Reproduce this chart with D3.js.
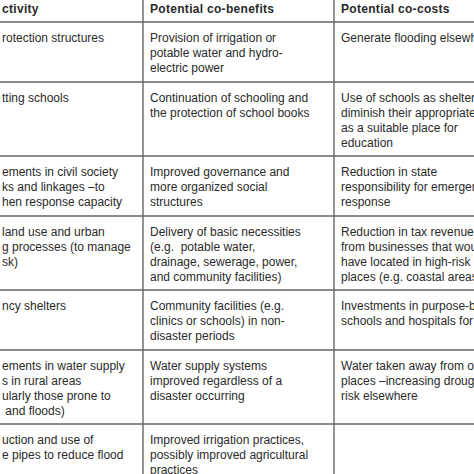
<!DOCTYPE html>
<html lang="en">
<head>
  <meta charset="UTF-8">
  <script src="https://cdn.jsdelivr.net/npm/d3@7"></script>
  <style>
    body { margin: 0; background: #fff; }
    svg { display: block; font-family: "Liberation Sans", Arial, sans-serif; }
  </style>
</head>
<body>
  <svg id="chart" width="474" height="474"></svg>
  <script>
    const headers = ["ctivity", "Potential co-benefits", "Potential co-costs"];

    const activity = [
      ["rotection structures"],
      ["tting schools"],
      ["ements in civil society", "ks and linkages \u2013to", "hen response capacity"],
      ["land use and urban", "g processes (to manage", "sk)"],
      ["ncy shelters"],
      ["ements in water supply", "s in rural areas", "ularly those prone to", " and floods)"],
      ["uction and use of", "e pipes to reduce flood"]
    ];
    const benefits = [
      ["Provision of irrigation or", "potable water and hydro-", "electric power"],
      ["Continuation of schooling and", "the protection of school books"],
      ["Improved governance and", "more organized social", "structures"],
      ["Delivery of basic necessities", "(e.g.  potable water,", "drainage, sewerage, power,", "and community facilities)"],
      ["Community facilities (e.g.", "clinics or schools) in non-", "disaster periods"],
      ["Water supply systems", "improved regardless of a", "disaster occurring"],
      ["Improved irrigation practices,", "possibly improved agricultural", "practices"]
    ];
    const costs = [
      ["Generate flooding elsewhere"],
      ["Use of schools as shelters may", "diminish their appropriateness", "as a suitable place for", "education"],
      ["Reduction in state", "responsibility for emergency", "response"],
      ["Reduction in tax revenue", "from businesses that would", "have located in high-risk", "places (e.g. coastal areas)"],
      ["Investments in purpose-built", "schools and hospitals for"],
      ["Water taken away from other", "places \u2013increasing drought", "risk elsewhere"],
      []
    ];

    const svg = d3.select("#chart");
    const headH = 22;

    // row heights from the tallest cell
    const rows = activity.map((a, i) => {
      const n = Math.max(3, a.length, benefits[i].length, costs[i].length);
      return { cells: [a, benefits[i], costs[i]], h: Math.round(n * 13.7 + 18.8) };
    });
    let y0 = headH;
    rows.forEach(r => { r.y = y0; y0 += r.h; });

    const x = d3.scaleOrdinal().domain([0, 1, 2]).range([2, 150, 341]);
    const colEdges = [143, 334];

    const g = svg.append("g").attr("fill", "#2a2a2a").attr("font-size", 12);

    g.selectAll("text.head").data(headers).join("text")
      .attr("class", "head")
      .attr("x", (d, i) => x(i)).attr("y", 13)
      .attr("font-weight", "bold").attr("letter-spacing", 0.3)
      .text(d => d);

    rows.forEach(r => {
      r.cells.forEach((lines, c) => {
        g.selectAll(null).data(lines).join("text")
          .attr("x", x(c))
          .attr("y", (d, k) => r.y + 19.5 + k * 15)
          .attr("xml:space", "preserve")
          .text(d => d);
      });
    });

    const grid = svg.append("g").attr("stroke", "#666").attr("stroke-width", 1.4);
    grid.selectAll("line.h").data(rows).join("line")
      .attr("x1", 0).attr("x2", 474)
      .attr("y1", d => d.y).attr("y2", d => d.y);
    grid.selectAll("line.v").data(colEdges).join("line")
      .attr("x1", d => d).attr("x2", d => d)
      .attr("y1", 0).attr("y2", 474);
  </script>
</body>
</html>
